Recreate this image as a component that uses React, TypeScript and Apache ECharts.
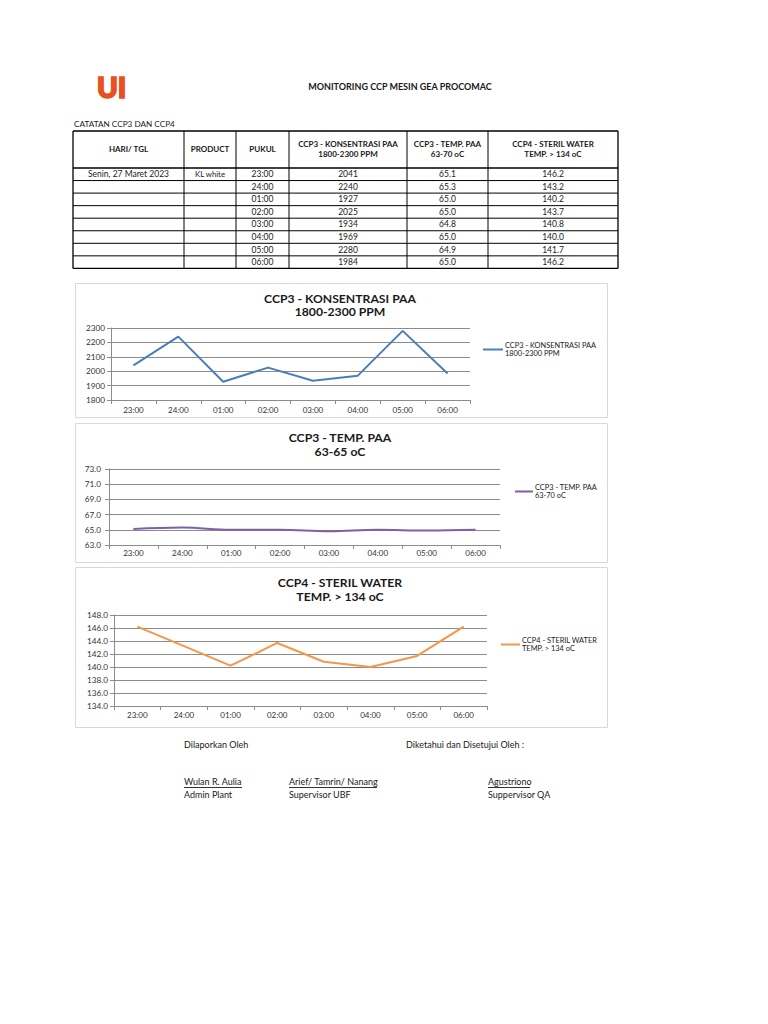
import React, { useEffect, useRef } from 'react';
import * as echarts from 'echarts';

// ---------- data ----------
const times = ['23:00', '24:00', '01:00', '02:00', '03:00', '04:00', '05:00', '06:00'];
const paaConcentration = [2041, 2240, 1927, 2025, 1934, 1969, 2280, 1984];
const paaTemperature = [65.1, 65.3, 65.0, 65.0, 64.8, 65.0, 64.9, 65.0];
const sterilWaterTemp = [146.2, 143.2, 140.2, 143.7, 140.8, 140.0, 141.7, 146.2];
const dayLabel = 'Senin, 27 Maret 2023';
const productLabel = 'KL white';
const tableHeaders = [
  ['HARI/ TGL'],
  ['PRODUCT'],
  ['PUKUL'],
  ['CCP3 - KONSENTRASI PAA', '1800-2300 PPM'],
  ['CCP3 - TEMP. PAA', '63-70 oC'],
  ['CCP4 - STERIL WATER', 'TEMP. > 134 oC'],
];
const chartTitles = [
  ['CCP3 - KONSENTRASI PAA', '1800-2300 PPM'],
  ['CCP3 - TEMP. PAA', '63-65 oC'],
  ['CCP4 - STERIL WATER', 'TEMP. > 134 oC'],
];
const seriesNames = [
  'CCP3 - KONSENTRASI PAA\n1800-2300 PPM',
  'CCP3 - TEMP. PAA\n63-70 oC',
  'CCP4 - STERIL WATER\nTEMP. > 134 oC',
];
const paaAxis = { min: 1800, max: 2300, interval: 100, decimals: 0 };
const tempAxis = { min: 63, max: 73, interval: 2, decimals: 1 };
const sterilAxis = { min: 134, max: 148, interval: 2, decimals: 1 };
const docTitle = 'MONITORING CCP MESIN GEA PROCOMAC';
const logoText = 'UI';
const sectionLabel = 'CATATAN CCP3 DAN CCP4';
const reportedLabel = 'Dilaporkan Oleh';
const approvedLabel = 'Diketahui dan Disetujui Oleh :';
const signers = [
  { name: 'Wulan R. Aulia', role: 'Admin Plant' },
  { name: 'Arief/ Tamrin/ Nanang', role: 'Supervisor UBF' },
  { name: 'Agustriono', role: 'Suppervisor QA' },
];

// ---------- styles / layout ----------
const FONT = 'Lato, "Open Sans", sans-serif';
const GRID_COLOR = '#8c8c8c';
const TEXT = '#1a1a1a';
const colors = ['#4A7EBB', '#7F5FA8', '#F79646'];

const colX = [73, 184, 236, 289, 407, 488, 618];
const tableTop = 131;
const headerBottom = 168;
const rowH = 12.55;

function txt(x: number, y: number, text: string, size: number, opts: any = {}) {
  return {
    type: 'text',
    x,
    y,
    silent: true,
    style: {
      text,
      fontSize: size,
      fontFamily: opts.family || FONT,
      fontWeight: opts.weight || (opts.bold ? 'bold' : 'normal'),
      fill: opts.color || TEXT,
      stroke: opts.stroke,
      lineWidth: opts.strokeWidth || 0,
      align: opts.align || 'left',
      textAlign: opts.align || 'left',
      verticalAlign: 'middle',
      textVerticalAlign: 'middle',
    },
  };
}

function line(x1: number, y1: number, x2: number, y2: number, w = 1, color = '#000') {
  return {
    type: 'line',
    silent: true,
    shape: { x1, y1, x2, y2 },
    style: { stroke: color, lineWidth: w },
  };
}

function buildGraphics() {
  const g: any[] = [];
  // logo & title
  g.push(
    txt(97, 87, logoText, 28, {
      weight: 900,
      color: '#E8501E',
      stroke: '#E8501E',
      strokeWidth: 1.6,
    })
  );
  g.push(txt(400, 86, docTitle, 9, { bold: true, align: 'center' }));
  g.push(txt(74, 124, sectionLabel, 8.2));

  // table
  const nRows = times.length;
  const tableBottom = headerBottom + nRows * rowH;
  colX.forEach((x, i) => {
    const outer = i === 0 || i === colX.length - 1;
    g.push(line(x, tableTop, x, tableBottom, outer ? 1.3 : 1));
  });
  g.push(line(colX[0], tableTop, colX[colX.length - 1], tableTop, 1.3));
  g.push(line(colX[0], headerBottom, colX[colX.length - 1], headerBottom, 1.5));
  for (let r = 1; r <= nRows; r++) {
    const y = headerBottom + r * rowH;
    g.push(line(colX[0], y, colX[colX.length - 1], y, r === nRows ? 1.3 : 1));
  }
  tableHeaders.forEach((lines, c) => {
    const cx = (colX[c] + colX[c + 1]) / 2;
    if (lines.length === 1) {
      g.push(txt(cx, 148.5, lines[0], 8, { bold: true, align: 'center' }));
    } else {
      g.push(txt(cx, 143.5, lines[0], 8, { bold: true, align: 'center' }));
      g.push(txt(cx, 153.5, lines[1], 8, { bold: true, align: 'center' }));
    }
  });
  times.forEach((t, r) => {
    const cy = headerBottom + r * rowH + rowH / 2;
    const cells = [
      r === 0 ? dayLabel : '',
      r === 0 ? productLabel : '',
      t,
      String(paaConcentration[r]),
      paaTemperature[r].toFixed(1),
      sterilWaterTemp[r].toFixed(1),
    ];
    cells.forEach((s, c) => {
      if (!s) return;
      const cx = (colX[c] + colX[c + 1]) / 2;
      g.push(txt(cx, cy, s, c === 1 ? 7.8 : 8.5, { align: 'center' }));
    });
  });

  // chart frames
  const frames = [
    [75, 283, 532, 134],
    [75, 423, 532, 139],
    [75, 567, 532, 160],
  ];
  frames.forEach(([x, y, w, h]) => {
    g.push({
      type: 'rect',
      silent: true,
      z: -1,
      shape: { x: x + 0.5, y: y + 0.5, width: w, height: h },
      style: { fill: '#fff', stroke: '#d9d9d9', lineWidth: 1 },
    });
  });
  // chart titles
  const titleY = [
    [298.5, 311.5],
    [437.5, 451],
    [582.5, 596.5],
  ];
  chartTitles.forEach((lines, i) => {
    g.push(txt(340, titleY[i][0], lines[0], 12.2, { bold: true, align: 'center' }));
    g.push(txt(340, titleY[i][1], lines[1], 12.2, { bold: true, align: 'center' }));
  });

  // signatures
  g.push(txt(184, 744, reportedLabel, 9));
  g.push(txt(406, 744, approvedLabel, 9));
  const sigX = [184, 289, 488];
  const sigW = [58, 88, 42];
  signers.forEach((s, i) => {
    g.push(txt(sigX[i], 781, s.name, 9));
    g.push(line(sigX[i], 787.5, sigX[i] + sigW[i], 787.5, 0.8, '#000'));
    g.push(txt(sigX[i], 794, s.role, 9));
  });
  return g;
}

function yAxisOf(idx: number, ax: any, margin: number) {
  return {
    type: 'value',
    gridIndex: idx,
    min: ax.min,
    max: ax.max,
    interval: ax.interval,
    axisLine: { show: true, lineStyle: { color: GRID_COLOR, width: 1 } },
    axisTick: { show: true, length: 4, lineStyle: { color: GRID_COLOR } },
    splitLine: { show: true, lineStyle: { color: GRID_COLOR, width: 1 } },
    axisLabel: {
      margin,
      fontSize: 8.2,
      fontFamily: FONT,
      color: '#333',
      formatter: (v: number) => v.toFixed(ax.decimals),
    },
  };
}

function xAxisOf(idx: number, margin: number) {
  return {
    type: 'category',
    gridIndex: idx,
    data: times,
    boundaryGap: true,
    axisLine: { show: true, lineStyle: { color: GRID_COLOR, width: 1 } },
    axisTick: { show: true, length: 4, alignWithLabel: false, lineStyle: { color: GRID_COLOR } },
    splitLine: { show: false },
    axisLabel: { margin, fontSize: 8, fontFamily: FONT, color: '#333', interval: 0 },
  };
}

function legendOf(name: string, color: string, left: number, centerY: number, w: number) {
  return {
    data: [{ name, icon: 'rect', itemStyle: { color } }],
    left,
    top: centerY - 9,
    orient: 'vertical',
    itemWidth: w,
    itemHeight: 2,
    padding: 0,
    selectedMode: false,
    textStyle: { fontSize: 7.4, fontFamily: FONT, color: '#222', lineHeight: 8.5, padding: [0, 0, 0, -3] },
  };
}

export default function App() {
  const ref = useRef<HTMLDivElement>(null);
  useEffect(() => {
    if (!ref.current) return;
    const chart = echarts.init(ref.current, undefined, { renderer: 'svg' });
    const option: any = {
      animation: false,
      backgroundColor: '#ffffff',
      textStyle: { fontFamily: FONT },
      graphic: { elements: buildGraphics() },
      grid: [
        { left: 111, top: 328, width: 359, height: 72, containLabel: false },
        { left: 109, top: 469, width: 391, height: 76, containLabel: false },
        { left: 114, top: 615, width: 373, height: 91, containLabel: false },
      ],
      xAxis: [xAxisOf(0, 6), xAxisOf(1, 4), xAxisOf(2, 5)],
      yAxis: [yAxisOf(0, paaAxis, 6), yAxisOf(1, tempAxis, 8), yAxisOf(2, sterilAxis, 6)],
      legend: [
        legendOf(seriesNames[0], colors[0], 483, 350, 20),
        legendOf(seriesNames[1], colors[1], 515, 492, 18),
        legendOf(seriesNames[2], colors[2], 501, 645, 19),
      ],
      series: [
        {
          name: seriesNames[0],
          type: 'line',
          xAxisIndex: 0,
          yAxisIndex: 0,
          data: paaConcentration,
          symbol: 'none',
          lineStyle: { color: colors[0], width: 2 },
          itemStyle: { color: colors[0] },
        },
        {
          name: seriesNames[1],
          type: 'line',
          xAxisIndex: 1,
          yAxisIndex: 1,
          data: paaTemperature,
          symbol: 'none',
          smooth: 0.4,
          lineStyle: { color: colors[1], width: 2 },
          itemStyle: { color: colors[1] },
        },
        {
          name: seriesNames[2],
          type: 'line',
          xAxisIndex: 2,
          yAxisIndex: 2,
          data: sterilWaterTemp,
          symbol: 'none',
          lineStyle: { color: colors[2], width: 2 },
          itemStyle: { color: colors[2] },
        },
      ],
    };
    chart.setOption(option);
    return () => chart.dispose();
  }, []);
  return (
    <div
      ref={ref}
      style={{ position: 'absolute', left: 0, top: 0, width: 768, height: 1024, background: '#fff' }}
    />
  );
}
